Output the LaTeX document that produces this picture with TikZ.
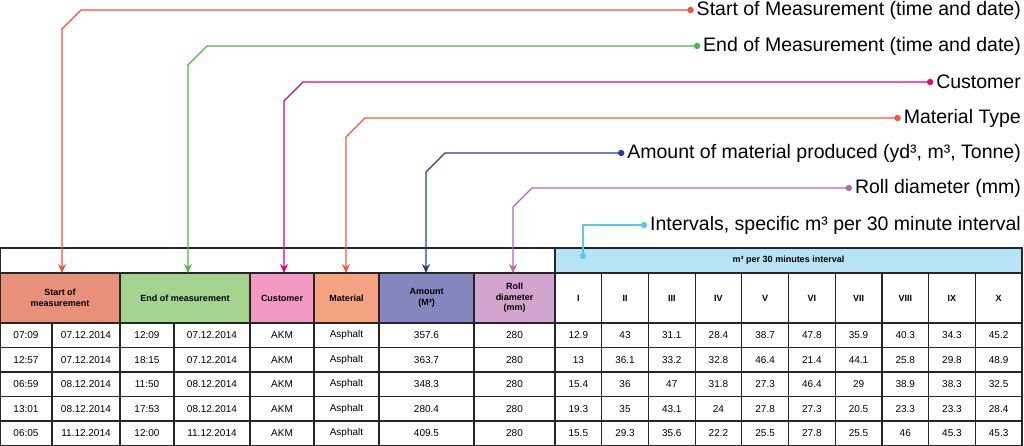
\documentclass[tikz,border=0pt]{standalone}
\usepackage{fontspec}
\setmainfont{Liberation Sans}
\usetikzlibrary{arrows.meta}
\definecolor{cstart}{HTML}{E8907A}
\definecolor{cend}{HTML}{A5D490}
\definecolor{ccust}{HTML}{F39AC4}
\definecolor{cmat}{HTML}{F4A383}
\definecolor{camount}{HTML}{8586BE}
\definecolor{croll}{HTML}{D3A4CF}
\definecolor{cint}{HTML}{B6E3F5}
\definecolor{lstart}{HTML}{F0503A}
\definecolor{lend}{HTML}{4DB848}
\definecolor{lcust}{HTML}{E5007E}
\definecolor{lmat}{HTML}{EF5A3A}
\definecolor{lamount}{HTML}{283D8F}
\definecolor{lroll}{HTML}{B569B0}
\definecolor{lint}{HTML}{5BC8F0}
\tikzset{
  cell/.style={draw=black!85, line width=1.2pt},
  head/.style={font=\bfseries\fontsize{9}{10.5}\selectfont, align=center},
  data/.style={font=\fontsize{10}{11}\selectfont},
  callout/.style={line width=1.2pt, -{Stealth[length=9pt,width=8pt]}},
  tag/.style={anchor=east, font=\fontsize{19.5}{21}\selectfont, inner sep=0pt}
}
\begin{document}
\begin{tikzpicture}[x=1pt,y=-1pt]
  \useasboundingbox (0,0) rectangle (1024,446);

  % header row and column heads
  \draw[cell] (0,248) rectangle (555,273);
  \draw[cell, fill=cint] (555,248) rectangle (1022,273);
  \node[head] (inthead) at (788.5,260.5) {m³ per 30 minutes interval};
  \foreach \xa/\xb/\col/\txt/\nm in {0/120/cstart/{Start of\\measurement}/hstart,
      120/250/cend/{End of measurement}/hend, 250/314/ccust/Customer/hcust,
      314/379/cmat/Material/hmat, 379/474/camount/{Amount\\(M³)}/hamount,
      474/555/croll/{Roll\\diameter\\(mm)}/hroll}{
    \draw[cell, fill=\col] (\xa,273) rectangle (\xb,323);
    \node[head] (\nm) at ({(\xa+\xb)/2},298) {\txt};
  }
  \foreach \r [count=\i from 0] in {I,II,III,IV,V,VI,VII,VIII,IX,X}{
    \draw[cell] ({555+\i*46.7},273) rectangle ({555+(\i+1)*46.7},323);
    \node[head] (int\i) at ({578.35+\i*46.7},298) {\r};
  }

  % data rows
  \foreach \row [count=\j from 0] in {
      {07:09,07.12.2014,12:09,07.12.2014,357.6,12.9,43,31.1,28.4,38.7,47.8,35.9,40.3,34.3,45.2},
      {12:57,07.12.2014,18:15,07.12.2014,363.7,13,36.1,33.2,32.8,46.4,21.4,44.1,25.8,29.8,48.9},
      {06:59,08.12.2014,11:50,08.12.2014,348.3,15.4,36,47,31.8,27.3,46.4,29,38.9,38.3,32.5},
      {13:01,08.12.2014,17:53,08.12.2014,280.4,19.3,35,43.1,24,27.8,27.3,20.5,23.3,23.3,28.4},
      {06:05,11.12.2014,12:00,11.12.2014,409.5,15.5,29.3,35.6,22.2,25.5,27.8,25.5,46,45.3,45.3}}{
    \pgfmathsetmacro{\ya}{323+\j*24.5}
    \pgfmathsetmacro{\yb}{\ya+24.5}
    \pgfmathsetmacro{\ym}{\ya+12.25}
    \foreach \v [count=\k from 1] in \row{
      \ifnum\k<6
        \pgfmathsetmacro{\xa}{{0,52,120,174,379}[\k-1]}
        \pgfmathsetmacro{\xb}{{52,120,174,250,474}[\k-1]}
      \else
        \pgfmathsetmacro{\xa}{555+(\k-6)*46.7}
        \pgfmathsetmacro{\xb}{\xa+46.7}
      \fi
      \draw[cell] (\xa,\ya) rectangle (\xb,\yb);
      \node[data] at ({(\xa+\xb)/2},\ym) {\v};
    }
    \foreach \xa/\xb/\v in {250/314/AKM, 314/379/Asphalt, 474/555/280}{
      \draw[cell] (\xa,\ya) rectangle (\xb,\yb);
      \node[data] at ({(\xa+\xb)/2},\ym) {\v};
    }
  }

  % callouts
  \foreach \x/\y/\col/\nm/\txt in {
      62/10/lstart/hstart/{Start of Measurement (time and date)},
      188/46/lend/hend/{End of Measurement (time and date)},
      284/82/lcust/hcust/{Customer},
      346/118/lmat/hmat/{Material Type},
      426/153/lamount/hamount/{Amount of material produced (yd³, m³, Tonne)},
      513/188/lroll/hroll/{Roll diameter (mm)}}{
    \node[tag] (t\nm) at (1021,\y) {\txt};
    \coordinate (d\nm) at ([xshift=-6pt]t\nm.west);
    \fill[\col] (d\nm) circle (3.2pt);
    \draw[callout, \col] (d\nm) -- (\x+19,\y) -- (\x,\y+19) -- (\x,273);
  }
  \node[tag] (tint) at (1021,225) {Intervals, specific m³ per 30 minute interval};
  \coordinate (dint) at ([xshift=-6pt]tint.west);
  \coordinate (sint) at (583,256);
  \fill[lint] (dint) circle (3.2pt) (sint) circle (3.2pt);
  \draw[lint, line width=1.2pt] (dint) -- (583,225) -- (sint);
\end{tikzpicture}
\end{document}
